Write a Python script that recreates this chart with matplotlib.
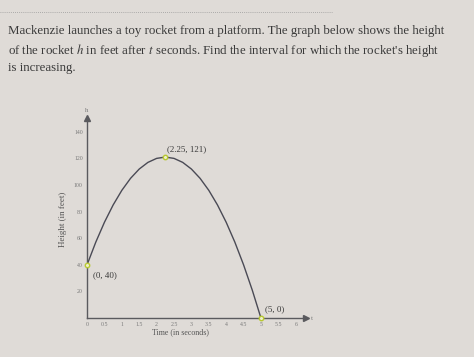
import matplotlib.pyplot as plt

# heights, every quarter second
t_vals = [0, 0.25, 0.5, 0.75, 1, 1.25, 1.5, 1.75, 2, 2.25, 2.5,
          2.75, 3, 3.25, 3.5, 3.75, 4, 4.25, 4.5, 4.75, 5]
h_vals = [40, 57, 72, 85, 96, 105, 112, 117, 120, 121, 120,
          117, 112, 105, 96, 85, 72, 57, 40, 21, 0]

# labelled points
pts_t = [0, 2.25, 5]
pts_h = [40, 121, 0]
pts_txt = ['(0, 40)', '(2.25, 121)', '(5, 0)']

x_ticks = [0, 0.5, 1, 1.5, 2, 2.5, 3, 3.5, 4, 4.5, 5, 5.5, 6]
x_tick_txt = ['0', '0.5', '1', '1.5', '2', '2.5', '3', '3.5', '4', '4.5', '5', '5.5', '6']
y_ticks = [20, 40, 60, 80, 100, 120, 140]

question = ("Mackenzie launches a toy rocket from a platform. The graph below shows the height\n"
            "of the rocket $h$ in feet after $t$ seconds. Find the interval for which the rocket's height\n"
            "is increasing.")

paper = '#dfdbd7'
ink = '#3a3a3a'
axis_col = '#5a5a5e'
tick_col = '#7a7a7a'

plt.rcParams['mathtext.fontset'] = 'stix'
fig = plt.figure(figsize=(4.74, 3.57), dpi=100, facecolor=paper)

# question text
fig.text(0.017, 0.93, question, ha='left', va='top', fontsize=9.3,
         family='Liberation Serif', color=ink, linespacing=1.4)

# dotted line across the top of the page
fig.add_artist(plt.Line2D([0.0, 0.7], [0.965, 0.965], color='#9a9a9a',
                          lw=0.6, ls=(0, (1, 1.5))))

ax = fig.add_axes([0.169, 0.0644, 0.4916, 0.641])
ax.set_facecolor(paper)
ax.set_xlim(-0.2, 6.5)
ax.set_ylim(-12, 160)

for s in ['top', 'right']:
    ax.spines[s].set_visible(False)
ax.spines['left'].set_position(('data', 0))
ax.spines['bottom'].set_position(('data', 0))
ax.spines['left'].set_bounds(0, 150)
ax.spines['bottom'].set_bounds(0, 6.3)
ax.spines['left'].set_color(axis_col)
ax.spines['bottom'].set_color(axis_col)
ax.spines['left'].set_linewidth(1.0)
ax.spines['bottom'].set_linewidth(1.0)

# arrow heads
ax.plot([6.3], [0], marker='>', ms=4, color=axis_col, clip_on=False)
ax.plot([0], [150], marker='^', ms=4, color=axis_col, clip_on=False)
ax.text(6.45, 0, 't', fontsize=5, color=tick_col, va='center', family='Liberation Serif')
ax.text(0, 155, 'h', fontsize=5, color=tick_col, ha='center', family='Liberation Serif')

ax.set_xticks(x_ticks)
ax.set_xticklabels(x_tick_txt)
ax.set_yticks(y_ticks)
ax.tick_params(length=0, labelsize=4.2, colors=tick_col, pad=3)
for lab in ax.get_xticklabels() + ax.get_yticklabels():
    lab.set_family('Liberation Serif')

ax.plot(t_vals, h_vals, color='#4a4a55', lw=1.0)
ax.plot(pts_t, pts_h, 'o', ms=3.2, mfc='#eef0c8', mec='#b8c832', mew=1.0, zorder=5)

ax.annotate(pts_txt[0], (pts_t[0], pts_h[0]), xytext=(4, -9), textcoords='offset points',
            fontsize=6.5, color=ink, family='Liberation Serif')
ax.annotate(pts_txt[1], (pts_t[1], pts_h[1]), xytext=(1, 4), textcoords='offset points',
            fontsize=6.5, color=ink, family='Liberation Serif')
ax.annotate(pts_txt[2], (pts_t[2], pts_h[2]), xytext=(3, 5), textcoords='offset points',
            fontsize=6.5, color=ink, family='Liberation Serif')

ax.set_xlabel('Time (in seconds)', fontsize=5.8, color='#555555', family='Liberation Serif')
ax.set_ylabel('Height (in feet)', fontsize=6.5, color='#555555', family='Liberation Serif')
ax.yaxis.set_label_coords(-0.055, 0.5)
ax.xaxis.set_label_coords(0.43, 0.025)
ax.xaxis.label.set_va('top')

fig.savefig('out.png', dpi=100, facecolor=paper)
